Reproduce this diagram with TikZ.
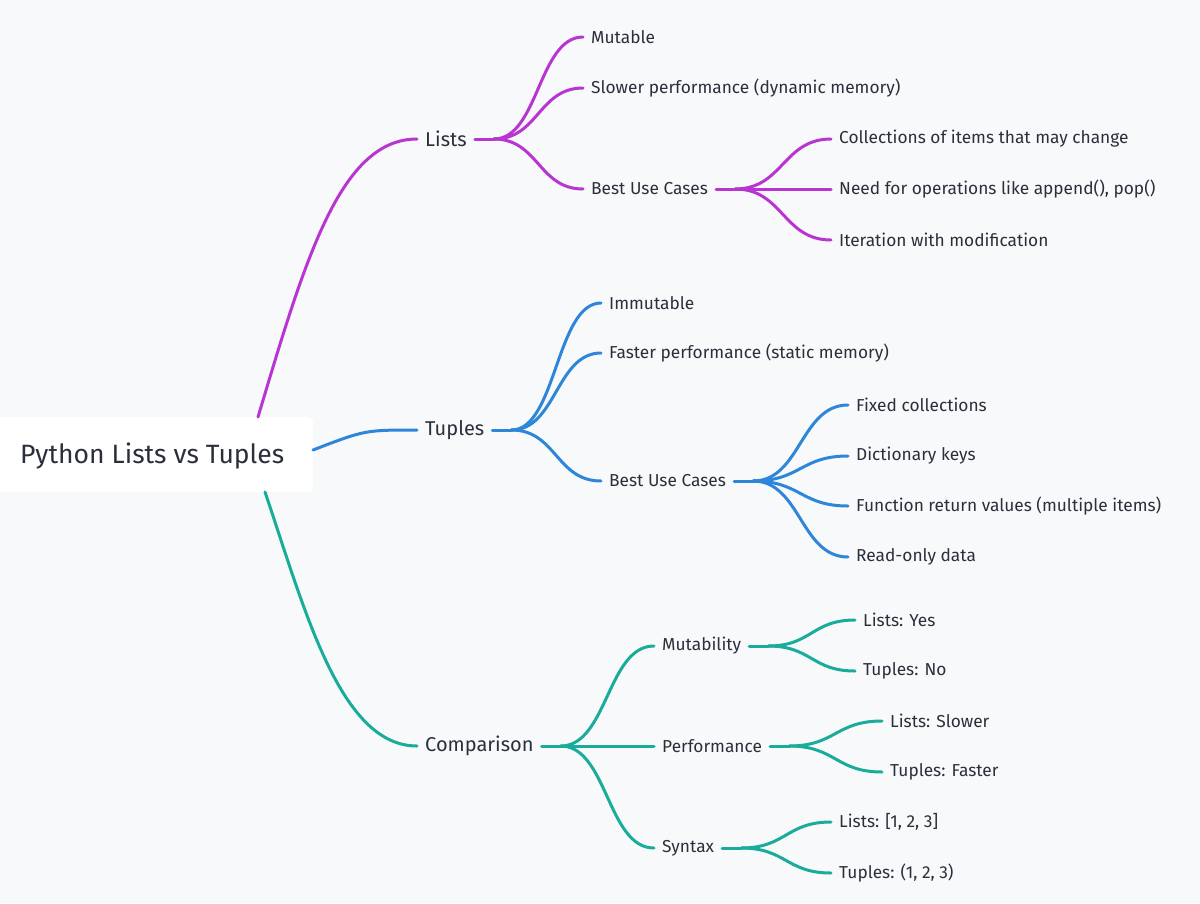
\documentclass[tikz,border=0pt]{standalone}
\usepackage{fontspec}
\setmainfont{Fira Sans}
\usetikzlibrary{calc}
\definecolor{bg}{HTML}{F8F9FB}
\definecolor{cpur}{HTML}{B935D2}
\definecolor{cblu}{HTML}{2E86D8}
\definecolor{cteal}{HTML}{19AC9B}
\definecolor{txt}{HTML}{2A2F3A}
\tikzset{
 leaf/.style={anchor=west,inner sep=0pt,text=txt,font=\fontsize{17.3}{19}\selectfont},
 mid/.style={anchor=west,inner sep=0pt,text=txt,font=\fontsize{20}{23}\selectfont},
 wire/.style={line width=3pt,line cap=round}
}
\newcommand\stub[3]{\draw[wire,#3] ([xshift=8pt]#1.east) -- ([xshift=27pt]#1.east) coordinate (#2);}
\newcommand\tol[3]{%
 \path ([xshift=-8pt]#2.west) coordinate (ee);
 \path ($(#1)!0.5!(ee)$) coordinate (mm);
 \draw[wire,#3] (#1) .. controls (mm |- #1) and (mm |- ee) .. (ee);}
\begin{document}
\begin{tikzpicture}[x=1pt,y=-1pt]
\fill[bg] (0,0) rectangle (1200,903);
\useasboundingbox (0,0) rectangle (1200,903);
% root
\node[fill=white,rounded corners=6pt,minimum width=330pt,minimum height=75pt,anchor=north west] (rootbox) at (-17,417) {};
\node[anchor=west,inner sep=0pt,text=txt,font=\fontsize{26.5}{31}\selectfont] (root) at (20,456) {Python Lists vs Tuples};
\coordinate (rL) at (258,417);
\coordinate (rT) at (313,450);
\coordinate (rC) at (265,492);
% level 1
\node[mid] (lists) at (425,139) {Lists};
\node[mid] (tuples) at (425,430) {Tuples};
\node[mid] (comp) at (425,746) {Comparison};
\draw[wire,cpur] (rL) .. controls (305,260) and (340,139) .. ([xshift=-8pt]lists.west);
\draw[wire,cblu] (rT) .. controls (365,430) and (365,430) .. ([xshift=-8pt]tuples.west);
\draw[wire,cteal] (rC) .. controls (305,610) and (340,746) .. ([xshift=-8pt]comp.west);
% lists
\stub{lists}{jl}{cpur}
\node[leaf] (mut) at (591,37) {Mutable};
\node[leaf] (slow) at (591,88) {Slower performance (dynamic memory)};
\node[leaf] (buc1) at (591,189) {Best Use Cases};
\tol{jl}{mut}{cpur}\tol{jl}{slow}{cpur}\tol{jl}{buc1}{cpur}
\stub{buc1}{jb1}{cpur}
\node[leaf] (l1) at (839,139) {Collections of items that may change};
\node[leaf] (l2) at (839,189) {Need for operations like append(), pop()};
\node[leaf] (l3) at (839,240) {Iteration with modification};
\tol{jb1}{l1}{cpur}\tol{jb1}{l2}{cpur}\tol{jb1}{l3}{cpur}
% tuples
\stub{tuples}{jt}{cblu}
\node[leaf] (imm) at (609,303) {Immutable};
\node[leaf] (fast) at (609,353) {Faster performance (static memory)};
\node[leaf] (buc2) at (609,481) {Best Use Cases};
\tol{jt}{imm}{cblu}\tol{jt}{fast}{cblu}\tol{jt}{buc2}{cblu}
\stub{buc2}{jb2}{cblu}
\node[leaf] (t1) at (856,405) {Fixed collections};
\node[leaf] (t2) at (856,456) {Dictionary keys};
\node[leaf] (t3) at (856,506) {Function return values (multiple items)};
\node[leaf] (t4) at (856,557) {Read-only data};
\tol{jb2}{t1}{cblu}\tol{jb2}{t2}{cblu}\tol{jb2}{t3}{cblu}\tol{jb2}{t4}{cblu}
% comparison
\stub{comp}{jc}{cteal}
\node[leaf] (mb) at (662,646) {Mutability};
\node[leaf] (pf) at (662,746) {Performance};
\node[leaf] (sx) at (662,848) {Syntax};
\tol{jc}{mb}{cteal}\tol{jc}{pf}{cteal}\tol{jc}{sx}{cteal}
\stub{mb}{jm}{cteal}
\node[leaf] (m1) at (863,620) {Lists: Yes};
\node[leaf] (m2) at (863,671) {Tuples: No};
\tol{jm}{m1}{cteal}\tol{jm}{m2}{cteal}
\stub{pf}{jp}{cteal}
\node[leaf] (p1) at (890,721) {Lists: Slower};
\node[leaf] (p2) at (890,772) {Tuples: Faster};
\tol{jp}{p1}{cteal}\tol{jp}{p2}{cteal}
\stub{sx}{js}{cteal}
\node[leaf] (s1) at (839,822) {Lists: [1, 2, 3]};
\node[leaf] (s2) at (839,873) {Tuples: (1, 2, 3)};
\tol{js}{s1}{cteal}\tol{js}{s2}{cteal}
\end{tikzpicture}
\end{document}
